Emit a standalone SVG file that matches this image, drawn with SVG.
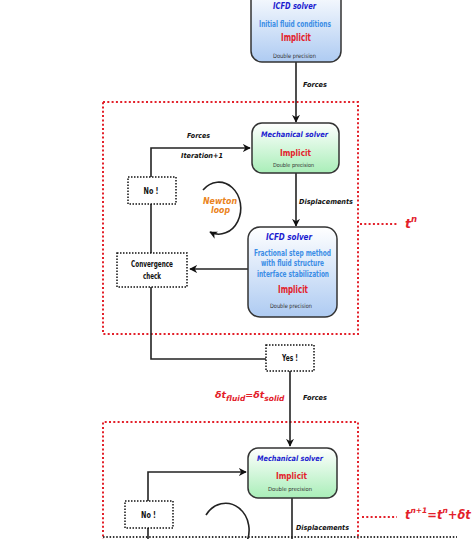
<svg xmlns="http://www.w3.org/2000/svg" width="474" height="539" viewBox="0 0 474 539">
<defs>
<linearGradient id="gBlue" x1="0" y1="0" x2="0" y2="1"><stop offset="0" stop-color="#ffffff"/><stop offset="1" stop-color="#aecbf2"/></linearGradient>
<linearGradient id="gGreen" x1="0" y1="0" x2="0" y2="1"><stop offset="0" stop-color="#ffffff"/><stop offset="1" stop-color="#a9eeb8"/></linearGradient>
<marker id="arr" viewBox="0 0 10 10" refX="9" refY="5" markerWidth="8" markerHeight="8" markerUnits="userSpaceOnUse" orient="auto"><path d="M0,0 L10,5 L0,10 L3,5 z" fill="#111"/></marker>
</defs>
<style>
text{font-family:"DejaVu Sans","Liberation Sans",sans-serif;font-weight:bold;text-anchor:middle}
.solver{fill:#1b1bd0;font-style:italic}
.desc{fill:#3b8de6}
.impl{fill:#e3202a}
.dp{fill:#333;font-weight:normal}
.lbl{fill:#111;font-style:italic}
.box{stroke:#333;stroke-width:1.5}
.dot{fill:#fff;stroke:#111;stroke-width:1.5;stroke-dasharray:1.5 1.5}
.red{fill:none;stroke:#e3202a;stroke-width:2;stroke-dasharray:2 2.3}
.ln{fill:none;stroke:#222;stroke-width:1.6}
.t{fill:#e3202a;font-style:italic;text-anchor:start}
.nw{fill:#ea8321;font-style:italic}
.plain{fill:#111}
</style>
<rect width="474" height="539" fill="#fff"/>

<g id="frames">
<rect class="red" x="103" y="102" width="255" height="232"/>
<path class="red" d="M103,545 V422 H358 V545"/>
<path class="red" d="M360,224 H398"/>
<path class="red" d="M362,517 H397"/>
<path fill="none" stroke="#333" stroke-width="2" stroke-dasharray="1.5 1.8" d="M103,537 H457"/>
</g>

<g id="connectors">
<path class="ln" d="M296,62 V122" marker-end="url(#arr)"/>
<path class="ln" d="M296,173 V226" marker-end="url(#arr)"/>
<path class="ln" d="M151,177 V148 H250" marker-end="url(#arr)"/>
<path class="ln" d="M151,204 V253"/>
<path class="ln" d="M248,269 H190" marker-end="url(#arr)"/>
<path class="ln" d="M151,287 V359 H266"/>
<path class="ln" d="M290,371 V446" marker-end="url(#arr)"/>
<path class="ln" d="M148,501 V472 H246" marker-end="url(#arr)"/>
<path class="ln" d="M148,528 V540"/>
<path class="ln" d="M292,498 V540"/>
<path class="ln" d="M203,190 A22,26 0 1 1 210,232" marker-end="url(#arr)"/>
<path class="ln" d="M206,515 A23,26 0 0 1 245,545"/>
<text class="lbl" x="315" y="87" font-size="7" textLength="24" lengthAdjust="spacingAndGlyphs">Forces</text>
<text class="lbl" x="326" y="204" font-size="7" textLength="54" lengthAdjust="spacingAndGlyphs">Displacements</text>
<text class="lbl" x="198.5" y="138" font-size="7" textLength="23" lengthAdjust="spacingAndGlyphs">Forces</text>
<text class="lbl" x="202" y="158" font-size="7" textLength="42" lengthAdjust="spacingAndGlyphs">Iteration+1</text>
<text class="lbl" x="315" y="400" font-size="7" textLength="24" lengthAdjust="spacingAndGlyphs">Forces</text>
<text class="lbl" x="322.5" y="530" font-size="7" textLength="53" lengthAdjust="spacingAndGlyphs">Displacements</text>
<text class="nw" x="220" y="204" font-size="9" textLength="34" lengthAdjust="spacingAndGlyphs">Newton</text>
<text class="nw" x="220.5" y="213" font-size="9" textLength="19" lengthAdjust="spacingAndGlyphs">loop</text>
<text class="t" x="215" y="398" font-size="9.5">δt<tspan font-size="7.5" dy="3">fluid</tspan><tspan dy="-3">=δt</tspan><tspan font-size="7.5" dy="3">solid</tspan></text>
<text class="t" x="405" y="228" font-size="12.5">t<tspan font-size="8.5" dy="-6">n</tspan></text>
<text class="t" x="405" y="519" font-size="11.5">t<tspan font-size="7.5" dy="-6">n+1</tspan><tspan dy="6">=t</tspan><tspan font-size="7.5" dy="-6">n</tspan><tspan dy="6">+δt</tspan></text>
</g>

<g id="icfd-initial">
<rect class="box" x="251" y="-12" width="90" height="74" rx="11" fill="url(#gBlue)"/>
<text class="solver" x="294.5" y="9" font-size="9" textLength="43" lengthAdjust="spacingAndGlyphs">ICFD solver</text>
<text class="desc" x="295" y="27" font-size="8" textLength="72" lengthAdjust="spacingAndGlyphs">Initial fluid conditions</text>
<text class="impl" x="296" y="40.5" font-size="10.5" textLength="30" lengthAdjust="spacingAndGlyphs">Implicit</text>
<text class="dp" x="294.5" y="58" font-size="6" textLength="43" lengthAdjust="spacingAndGlyphs">Double precision</text>
</g>

<g id="mech1">
<rect class="box" x="252" y="123" width="87" height="50" rx="10" fill="url(#gGreen)"/>
<text class="solver" x="294.5" y="137" font-size="7.5" textLength="67" lengthAdjust="spacingAndGlyphs">Mechanical solver</text>
<text class="impl" x="295.5" y="156" font-size="9.5" textLength="31" lengthAdjust="spacingAndGlyphs">Implicit</text>
<text class="dp" x="293.5" y="167" font-size="5.5" textLength="41" lengthAdjust="spacingAndGlyphs">Double precision</text>
</g>

<g id="icfd2">
<rect class="box" x="248" y="227" width="89" height="90" rx="12" fill="url(#gBlue)"/>
<text class="solver" x="289" y="240" font-size="9" textLength="46" lengthAdjust="spacingAndGlyphs">ICFD solver</text>
<text class="desc" x="292.5" y="255.5" font-size="8" textLength="77" lengthAdjust="spacingAndGlyphs">Fractional step method</text>
<text class="desc" x="292.5" y="266" font-size="8" textLength="63" lengthAdjust="spacingAndGlyphs">with fluid structure</text>
<text class="desc" x="293" y="276.5" font-size="8" textLength="72" lengthAdjust="spacingAndGlyphs">interface stabilization</text>
<text class="impl" x="293" y="293" font-size="10.5" textLength="30" lengthAdjust="spacingAndGlyphs">Implicit</text>
<text class="dp" x="291" y="307.5" font-size="6" textLength="42" lengthAdjust="spacingAndGlyphs">Double precision</text>
</g>

<g id="no1">
<rect class="dot" x="128" y="177" width="48" height="27"/>
<text class="plain" x="151" y="194" font-size="8.5" textLength="15" lengthAdjust="spacingAndGlyphs">No !</text>
</g>

<g id="convergence">
<rect class="dot" x="117" y="253" width="70" height="34"/>
<text class="plain" x="152" y="267" font-size="8" textLength="42" lengthAdjust="spacingAndGlyphs">Convergence</text>
<text class="plain" x="152" y="278.5" font-size="8" textLength="18" lengthAdjust="spacingAndGlyphs">check</text>
</g>

<g id="yes">
<rect class="dot" x="266" y="345" width="48" height="26"/>
<text class="plain" x="290" y="361" font-size="8.5" textLength="16" lengthAdjust="spacingAndGlyphs">Yes !</text>
</g>

<g id="mech2">
<rect class="box" x="248" y="448" width="89" height="50" rx="10" fill="url(#gGreen)"/>
<text class="solver" x="290" y="461" font-size="7.5" textLength="66" lengthAdjust="spacingAndGlyphs">Mechanical solver</text>
<text class="impl" x="291.5" y="479" font-size="9.5" textLength="31" lengthAdjust="spacingAndGlyphs">Implicit</text>
<text class="dp" x="290" y="490.5" font-size="5.5" textLength="44" lengthAdjust="spacingAndGlyphs">Double precision</text>
</g>

<g id="no2">
<rect class="dot" x="125" y="501" width="48" height="27"/>
<text class="plain" x="148.5" y="518" font-size="8.5" textLength="15" lengthAdjust="spacingAndGlyphs">No !</text>
</g>
</svg>
